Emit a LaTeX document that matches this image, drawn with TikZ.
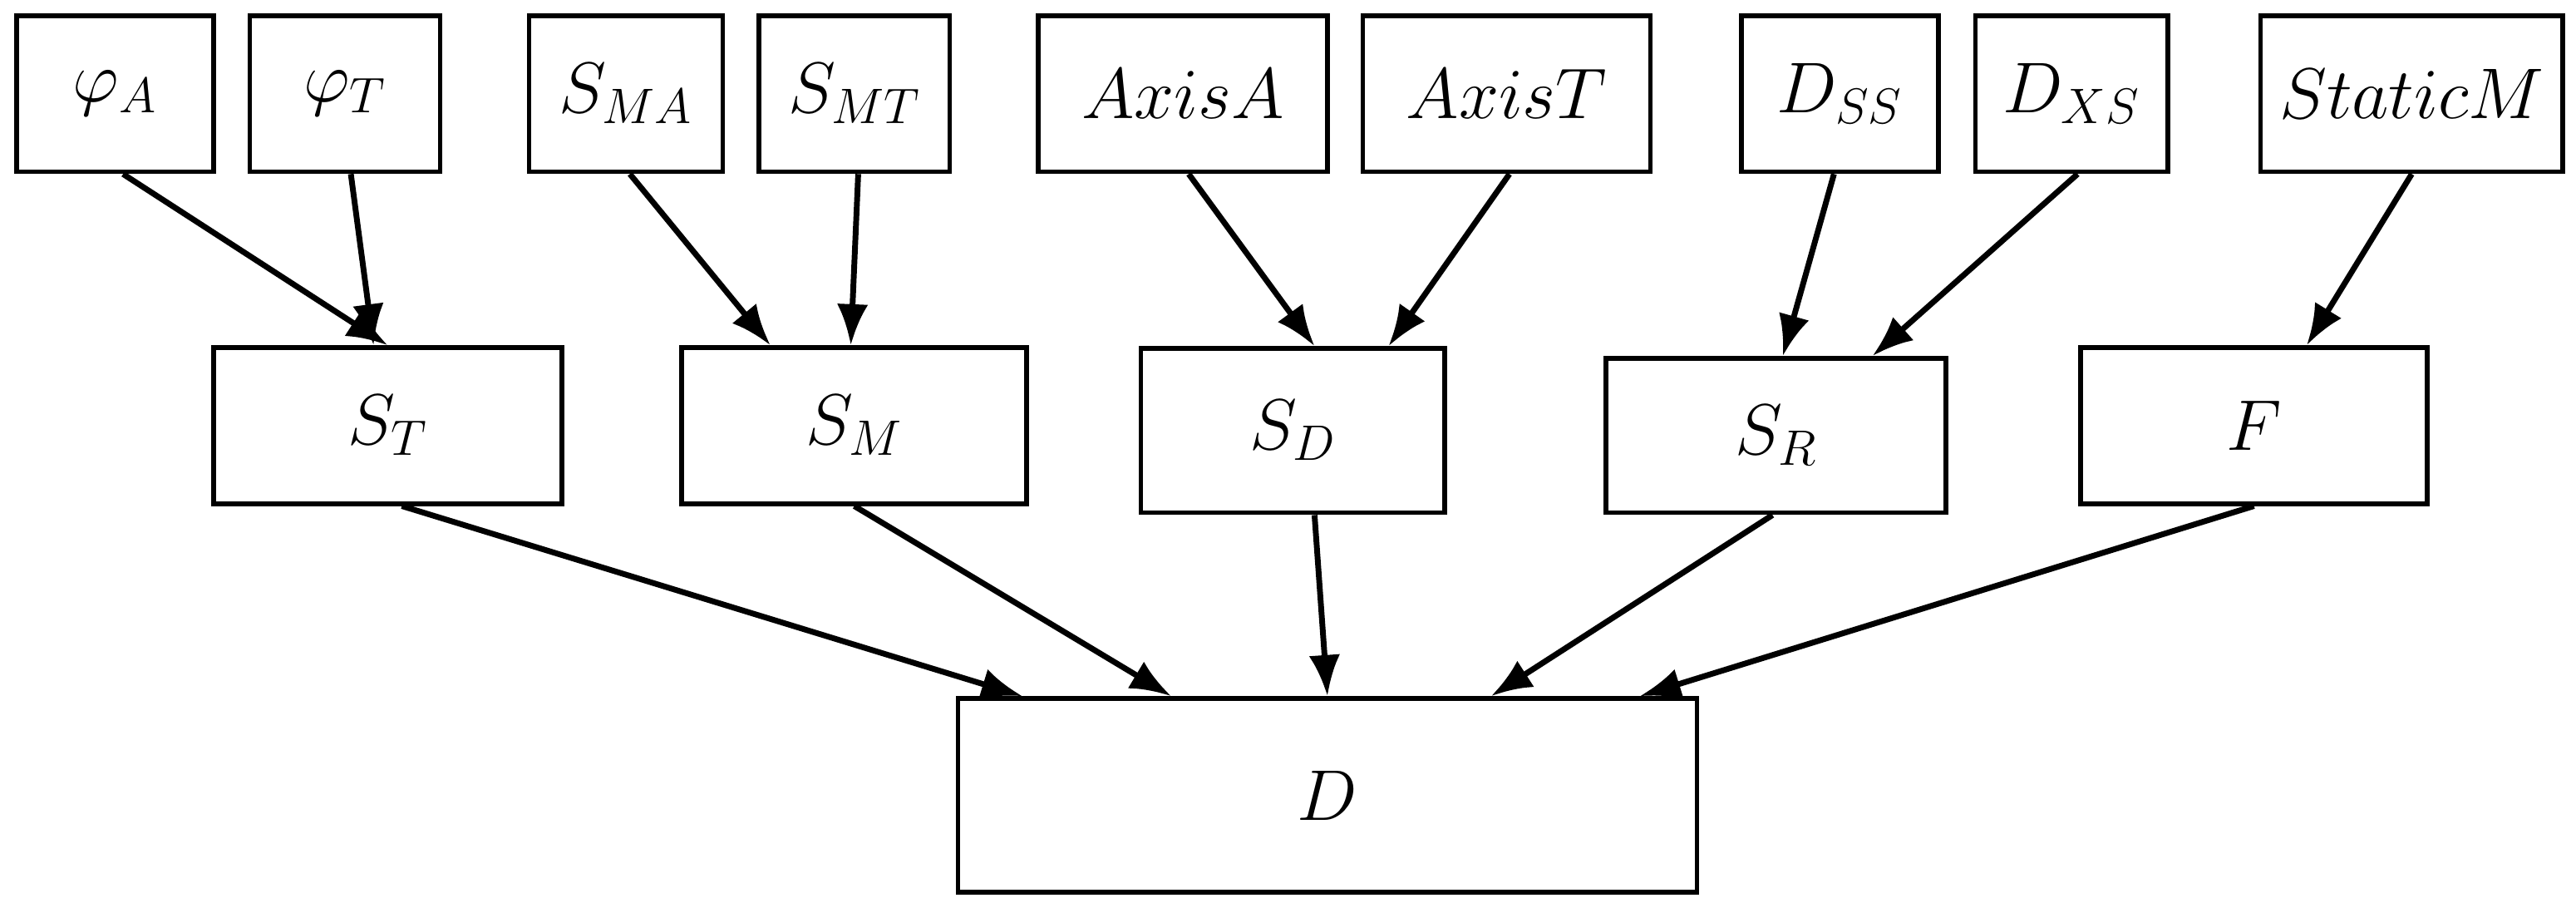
\documentclass[tikz,border=0pt]{standalone}
\usetikzlibrary{calc,arrows.meta}
\begin{document}
\begin{tikzpicture}[x=0.02cm,y=-0.02cm,
  box/.style={draw,line width=1.6pt,inner sep=0pt,font=\fontsize{25}{30}\selectfont},
  arr/.style={line width=2pt,-{Latex[length=0.5cm,width=0.38cm]}}]
\useasboundingbox (0,0) rectangle (1568,549);
% top row
\node[box,minimum width=2.4cm,minimum height=1.9cm] (phiA) at (70,57) {$\varphi_A$};
\node[box,minimum width=2.32cm,minimum height=1.9cm] (phiT) at (210,57) {$\varphi_T$};
\node[box,minimum width=2.36cm,minimum height=1.9cm] (SMA) at (381,57) {$S_{MA}$};
\node[box,minimum width=2.32cm,minimum height=1.9cm] (SMT) at (520,57) {$S_{MT}$};
\node[box,minimum width=3.52cm,minimum height=1.9cm] (AxA) at (720,57) {$AxisA$};
\node[box,minimum width=3.5cm,minimum height=1.9cm] (AxT) at (917,57) {$AxisT$};
\node[box,minimum width=2.4cm,minimum height=1.9cm] (DSS) at (1120,57) {$D_{SS}$};
\node[box,minimum width=2.34cm,minimum height=1.9cm] (DXS) at (1261,57) {$D_{XS}$};
\node[box,minimum width=3.68cm,minimum height=1.9cm] (StM) at (1468,57) {$StaticM$};
% middle row
\node[box,minimum width=4.24cm,minimum height=1.9cm] (ST) at (236,259) {$S_T$};
\node[box,minimum width=4.2cm,minimum height=1.9cm] (SM) at (520,259) {$S_M$};
\node[box,minimum width=3.7cm,minimum height=2cm] (SD) at (787,262) {$S_D$};
\node[box,minimum width=4.14cm,minimum height=1.88cm] (SR) at (1081,265) {$S_R$};
\node[box,minimum width=4.22cm,minimum height=1.9cm] (F) at (1372,259) {$F$};
% bottom
\node[box,minimum width=9cm,minimum height=2.36cm] (D) at (808,484) {$D$};
% connectors
\draw[arr] ($(phiA.south west)!0.54!(phiA.south east)$) -- ($(ST.north west)!0.50!(ST.north east)$);
\draw[arr] ($(phiT.south west)!0.53!(phiT.south east)$) -- ($(ST.north west)!0.46!(ST.north east)$);
\draw[arr] ($(SMA.south west)!0.52!(SMA.south east)$) -- ($(SM.north west)!0.26!(SM.north east)$);
\draw[arr] ($(SMT.south west)!0.52!(SMT.south east)$) -- ($(SM.north west)!0.49!(SM.north east)$);
\draw[arr] ($(AxA.south west)!0.52!(AxA.south east)$) -- ($(SD.north west)!0.57!(SD.north east)$);
\draw[arr] ($(AxT.south west)!0.51!(AxT.south east)$) -- ($(SD.north west)!0.81!(SD.north east)$);
\draw[arr] ($(DSS.south west)!0.47!(DSS.south east)$) -- ($(SR.north west)!0.52!(SR.north east)$);
\draw[arr] ($(DXS.south west)!0.53!(DXS.south east)$) -- ($(SR.north west)!0.78!(SR.north east)$);
\draw[arr] ($(StM.south west)!0.50!(StM.south east)$) -- ($(F.north west)!0.65!(F.north east)$);
\draw[arr] ($(ST.south west)!0.54!(ST.south east)$) -- ($(D.north west)!0.09!(D.north east)$);
\draw[arr] ($(SM.south west)!0.50!(SM.south east)$) -- ($(D.north west)!0.29!(D.north east)$);
\draw[arr] ($(SD.south west)!0.57!(SD.south east)$) -- ($(D.north west)!0.50!(D.north east)$);
\draw[arr] ($(SR.south west)!0.49!(SR.south east)$) -- ($(D.north west)!0.72!(D.north east)$);
\draw[arr] ($(F.south west)!0.50!(F.south east)$) -- ($(D.north west)!0.92!(D.north east)$);
\end{tikzpicture}
\end{document}
